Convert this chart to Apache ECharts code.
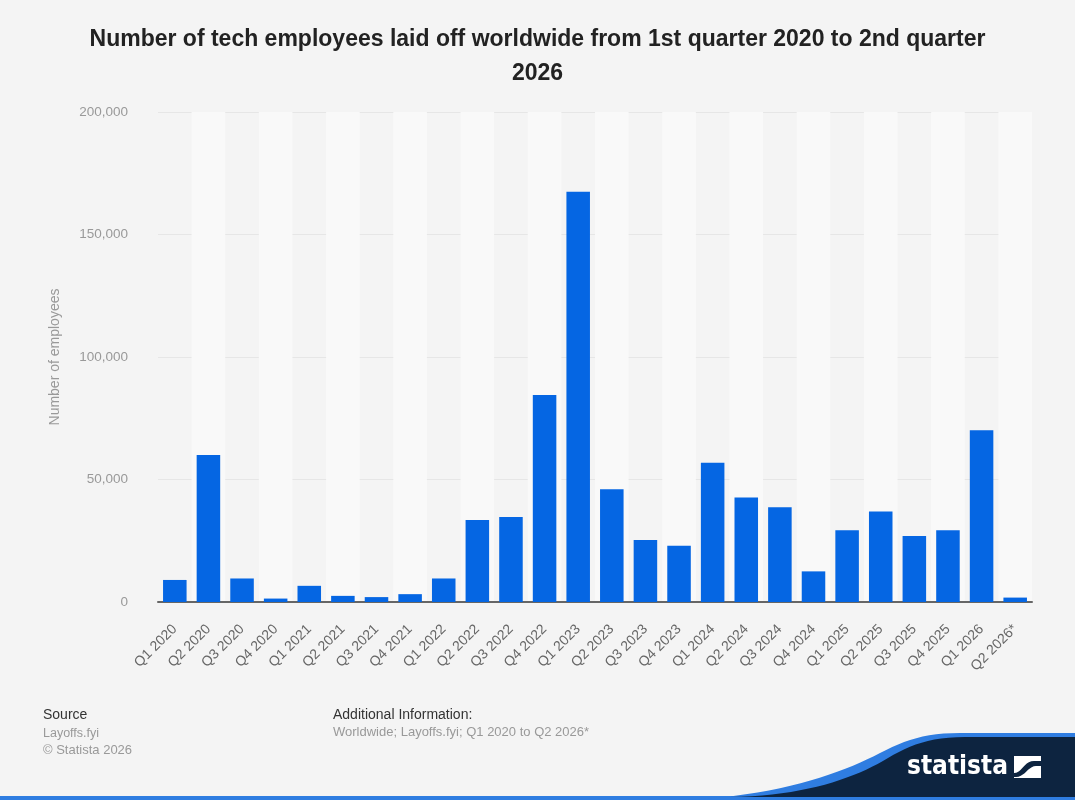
<!DOCTYPE html>
<html>
<head>
<meta charset="utf-8">
<title>Tech layoffs worldwide</title>
<script src="https://cdn.jsdelivr.net/npm/echarts@6/dist/echarts.min.js"></script>
<style>
  html, body { margin: 0; padding: 0; background: #f4f4f4; }
  #chart { width: 1075px; height: 800px; }
</style>
</head>
<body>
<div id="chart"></div>
<script>
// quarters on the x axis
const quarters = [
  'Q1 2020', 'Q2 2020', 'Q3 2020', 'Q4 2020',
  'Q1 2021', 'Q2 2021', 'Q3 2021', 'Q4 2021',
  'Q1 2022', 'Q2 2022', 'Q3 2022', 'Q4 2022',
  'Q1 2023', 'Q2 2023', 'Q3 2023', 'Q4 2023',
  'Q1 2024', 'Q2 2024', 'Q3 2024', 'Q4 2024',
  'Q1 2025', 'Q2 2025', 'Q3 2025', 'Q4 2025',
  'Q1 2026', 'Q2 2026*',
]

// employees laid off per quarter
const laidOff = [
  9000, 60000, 9600, 1400,
  6600, 2500, 2000, 3200,
  9600, 33500, 34700, 84500,
  167500, 46000, 25300, 23000,
  56800, 42700, 38700, 12500,
  29300, 36900, 26900, 29300,
  70100, 1800,
]

const yTicks = { min: 0, max: 200000, step: 50000 }

const BLUE = '#0566e3'
const NAVY = '#0d2440'
const WAVE = '#2f7de1'

// sample a cubic bezier for the footer wave (decoration only)
function bez(p0, p1, p2, p3, n) {
  const pts = []
  for (let i = 0; i <= n; i++) {
    const t = i / n, u = 1 - t
    pts.push([
      u * u * u * p0[0] + 3 * u * u * t * p1[0] + 3 * u * t * t * p2[0] + t * t * t * p3[0],
      u * u * u * p0[1] + 3 * u * u * t * p1[1] + 3 * u * t * t * p2[1] + t * t * t * p3[1],
    ])
  }
  return pts
}

const waveOuter = [
  ...bez([680, 800], [775, 797], [840, 774], [880, 753], 20),
  ...bez([880, 753], [905, 740], [925, 733], [960, 733], 12),
  [1075, 733], [1075, 800],
]
const waveInner = [
  ...bez([730, 797], [805, 796], [855, 778], [888, 758], 20),
  ...bez([888, 758], [910, 745], [930, 737], [965, 737], 12),
  [1075, 737], [1075, 797],
]
const logoStroke = [
  ...bez([1014, 773], [1022, 773], [1024, 761], [1034, 761], 10),
  [1041, 761], [1041, 766], [1036, 766],
  ...bez([1036, 766], [1028, 766], [1025, 777], [1016, 777], 10),
  [1014, 777],
]

const chart = echarts.init(document.getElementById('chart'))

const option = {
  backgroundColor: '#f4f4f4',
  animation: false,
  title: {
    text: 'Number of tech employees laid off worldwide from 1st quarter 2020 to 2nd quarter\n2026',
    left: 'center',
    top: 18,
    textStyle: {
      fontFamily: 'Liberation Sans',
      fontWeight: 'bold',
      fontSize: 23,
      color: '#222',
      lineHeight: 34,
    },
  },
  grid: {
    left: 158,
    right: 43,
    top: 112,
    bottom: 198,
  },
  xAxis: {
    type: 'category',
    data: quarters,
    axisLine: { lineStyle: { color: '#666', width: 2 } },
    axisTick: { show: false },
    splitArea: {
      show: true,
      areaStyle: { color: ['rgba(0,0,0,0)', '#f9f9f9'] },
    },
    axisLabel: {
      rotate: 45,
      margin: 25,
      fontFamily: 'Liberation Sans',
      fontSize: 14,
      color: '#666',
      interval: 0,
    },
  },
  yAxis: {
    type: 'value',
    min: yTicks.min,
    max: yTicks.max,
    interval: yTicks.step,
    name: 'Number of employees',
    nameLocation: 'middle',
    nameGap: 96,
    nameTextStyle: { fontFamily: 'Liberation Sans', fontSize: 14, color: '#999' },
    axisLine: { show: false },
    axisTick: { show: false },
    splitLine: { lineStyle: { color: '#e6e6e6', width: 1 } },
    axisLabel: {
      margin: 30,
      fontFamily: 'Liberation Sans',
      fontSize: 13.5,
      color: '#999',
      formatter: (v) => v.toLocaleString('en-US'),
    },
  },
  series: [
    {
      type: 'bar',
      data: laidOff,
      barWidth: '70%',
      itemStyle: { color: BLUE },
      z: 3,
    },
  ],
  graphic: [
    // footer text
    { type: 'text', x: 43, y: 708, style: { text: 'Source', font: '14px "Liberation Sans"', fill: '#333' } },
    { type: 'text', x: 43, y: 727, style: { text: 'Layoffs.fyi', font: '12.5px "Liberation Sans"', fill: '#999' } },
    { type: 'text', x: 43, y: 744, style: { text: '© Statista 2026', font: '13px "Liberation Sans"', fill: '#999' } },
    { type: 'text', x: 333, y: 708, style: { text: 'Additional Information:', font: '14px "Liberation Sans"', fill: '#333' } },
    { type: 'text', x: 333, y: 726, style: { text: 'Worldwide; Layoffs.fyi; Q1 2020 to Q2 2026*', font: '13px "Liberation Sans"', fill: '#999' } },
    // bottom blue strip
    { type: 'rect', shape: { x: 0, y: 796, width: 1075, height: 4 }, style: { fill: WAVE } },
    // wave behind logo
    { type: 'polygon', shape: { points: waveOuter }, style: { fill: WAVE } },
    { type: 'polygon', shape: { points: waveInner }, style: { fill: NAVY } },
    { type: 'text', x: 907, y: 754, style: { text: 'statista', font: 'bold 26px "DejaVu Sans Condensed"', fill: '#fff' } },
    // logo mark
    { type: 'rect', shape: { x: 1014, y: 756, width: 27, height: 22 }, style: { fill: '#fff' } },
    { type: 'polygon', shape: { points: logoStroke }, style: { fill: NAVY } },
  ],
}

chart.setOption(option)
</script>
</body>
</html>
